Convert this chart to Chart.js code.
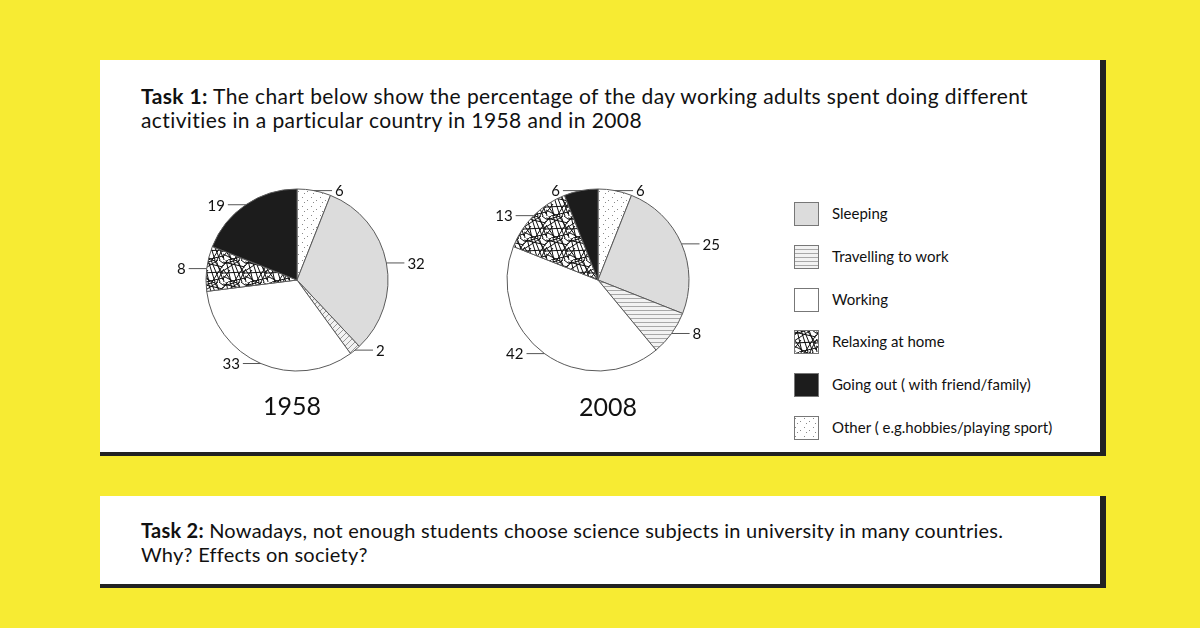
<!DOCTYPE html>
<html>
<head>
<meta charset="utf-8">
<script src="https://cdn.jsdelivr.net/npm/chart.js@4.4.0/dist/chart.umd.min.js"></script>
<style>
  body { margin: 0; width: 1200px; height: 628px; background: #f7eb33; position: relative; overflow: hidden; font-family: Lato, sans-serif; color: #111; }
  .box { position: absolute; left: 100px; width: 1000px; background: #fff; border-right: 6px solid #222; border-bottom: 4px solid #222; }
  #box1 { top: 60px; height: 392px; }
  #box2 { top: 496px; height: 88px; }
  .task { position: absolute; left: 41px; white-space: nowrap; }
  .task b { font-weight: 700; }
  canvas.pie { position: absolute; }
  .year { position: absolute; font-size: 25px; width: 120px; text-align: center; }
  .leg { position: absolute; left: 794px; height: 24px; }
  .leg canvas { position: absolute; left: 0; top: 0; }
  .leg span { position: absolute; left: 38px; top: 2px; font-size: 15px; white-space: nowrap; }
</style>
</head>
<body>
<div class="box" id="box1">
  <div class="task" style="top:24px;font-size:21px;line-height:24px;letter-spacing:0.4px"><b>Task 1:</b> The chart below show the percentage of the day working adults spent doing different<br>activities in a particular country in 1958 and in 2008</div>
</div>
<div class="box" id="box2">
  <div class="task" style="top:22px;font-size:20px;line-height:24px;letter-spacing:0.25px"><b>Task 2:</b> Nowadays, not enough students choose science subjects in university in many countries.<br>Why? Effects on society?</div>
</div>
<canvas class="pie" id="pie1958" width="280" height="260" style="left:157px;top:150px"></canvas>
<canvas class="pie" id="pie2008" width="280" height="260" style="left:458px;top:150px"></canvas>
<div class="year" style="left:232px;top:390px">1958</div>
<div class="year" style="left:548px;top:391px">2008</div>
<div id="legend"></div>

<script>
// legend order
var activities = ['Sleeping', 'Travelling to work', 'Working', 'Relaxing at home', 'Going out ( with friend/family)', 'Other ( e.g.hobbies/playing sport)'];
var values1958 = [32, 2, 33, 8, 19, 6];
var values2008 = [25, 8, 42, 13, 6, 6];
// pies go clockwise from the top starting with "Other"
var pieOrder = [5, 0, 1, 2, 3, 4];

function tile(w, h, draw) {
  var c = document.createElement('canvas');
  c.width = w; c.height = h;
  draw(c.getContext('2d'));
  return c;
}

var tiles = {
  hLines: tile(6, 4, function (g) {
    g.fillStyle = '#f2f2f2'; g.fillRect(0, 0, 6, 4);
    g.fillStyle = '#a8a8a8'; g.fillRect(0, 0, 6, 1);
  }),
  diag: tile(6, 6, function (g) {
    g.fillStyle = '#f2f2f2'; g.fillRect(0, 0, 6, 6);
    g.strokeStyle = '#999'; g.lineWidth = 1;
    g.beginPath(); g.moveTo(-1, 7); g.lineTo(7, -1); g.moveTo(-1, 1); g.lineTo(1, -1); g.moveTo(5, 7); g.lineTo(7, 5); g.stroke();
  }),
  scribble: tile(22, 22, function (g) {
    g.fillStyle = '#fff'; g.fillRect(0, 0, 22, 22);
    g.strokeStyle = '#111'; g.lineWidth = 1;
    var segs = [[0,2,22,7],[3,0,8,22],[0,16,12,22],[13,0,22,14],[0,11,17,0],[16,22,22,10],
                [5,22,22,18],[0,19,7,10],[10,0,19,22],[0,6,5,0],[18,0,22,3],[1,22,0,17],
                [0,13,22,12],[7,0,14,22],[11,22,22,5],[0,9,9,22],[14,0,0,4],[22,20,15,0]];
    g.beginPath();
    segs.forEach(function (s) { g.moveTo(s[0], s[1]); g.lineTo(s[2], s[3]); });
    g.stroke();
  }),
  dots: tile(9, 9, function (g) {
    g.fillStyle = '#fff'; g.fillRect(0, 0, 9, 9);
    g.fillStyle = '#8a8a8a';
    g.fillRect(1, 2, 1, 1); g.fillRect(6, 5, 1, 1); g.fillRect(3, 7, 1, 1);
  })
};

function fills(ctx, travelTile) {
  return [
    '#dcdcdc',
    ctx.createPattern(tiles[travelTile], 'repeat'),
    '#ffffff',
    ctx.createPattern(tiles.scribble, 'repeat'),
    '#1c1c1c',
    ctx.createPattern(tiles.dots, 'repeat')
  ];
}

var leaderLabels = {
  id: 'leaderLabels',
  afterDatasetsDraw: function (chart) {
    var ctx = chart.ctx;
    var meta = chart.getDatasetMeta(0);
    var vals = chart.data.datasets[0].data;
    ctx.save();
    ctx.font = '15px Lato';
    ctx.fillStyle = '#111';
    ctx.strokeStyle = '#555';
    ctx.lineWidth = 1;
    ctx.textBaseline = 'middle';
    meta.data.forEach(function (arc, i) {
      var p = arc.getProps(['x', 'y', 'startAngle', 'endAngle', 'outerRadius'], true);
      var a = (p.startAngle + p.endAngle) / 2;
      var px = p.x + Math.cos(a) * p.outerRadius;
      var py = p.y + Math.sin(a) * p.outerRadius;
      var right = Math.cos(a) >= 0;
      var ex = px + (right ? 18 : -18);
      ctx.beginPath(); ctx.moveTo(px, py); ctx.lineTo(ex, py); ctx.stroke();
      ctx.textAlign = right ? 'left' : 'right';
      ctx.fillText(String(vals[i]), ex + (right ? 3 : -3), py + 1);
    });
    ctx.restore();
  }
};

function drawPie(id, values, travelTile) {
  var target = document.getElementById(id);
  var f = fills(target.getContext('2d'), travelTile);
  new Chart(target, {
    type: 'pie',
    data: {
      labels: pieOrder.map(function (k) { return activities[k]; }),
      datasets: [{
        data: pieOrder.map(function (k) { return values[k]; }),
        backgroundColor: pieOrder.map(function (k) { return f[k]; }),
        borderColor: '#5a5a5a',
        borderWidth: 1
      }]
    },
    options: {
      responsive: false,
      animation: false,
      radius: 91,
      events: [],
      plugins: { legend: { display: false }, tooltip: { enabled: false } }
    },
    plugins: [leaderLabels]
  });
}

drawPie('pie1958', values1958, 'diag');
drawPie('pie2008', values2008, 'hLines');

// legend
var legend = document.getElementById('legend');
activities.forEach(function (name, i) {
  var item = document.createElement('div');
  item.className = 'leg';
  item.style.top = (202 + i * 42.8) + 'px';
  var sw = document.createElement('canvas');
  sw.width = 25; sw.height = 24;
  var g = sw.getContext('2d');
  g.fillStyle = fills(g, 'hLines')[i];
  g.fillRect(0, 0, 25, 24);
  g.strokeStyle = '#777'; g.lineWidth = 1;
  g.strokeRect(0.5, 0.5, 24, 23);
  var t = document.createElement('span');
  t.textContent = name;
  item.appendChild(sw);
  item.appendChild(t);
  legend.appendChild(item);
});
</script>
</body>
</html>
